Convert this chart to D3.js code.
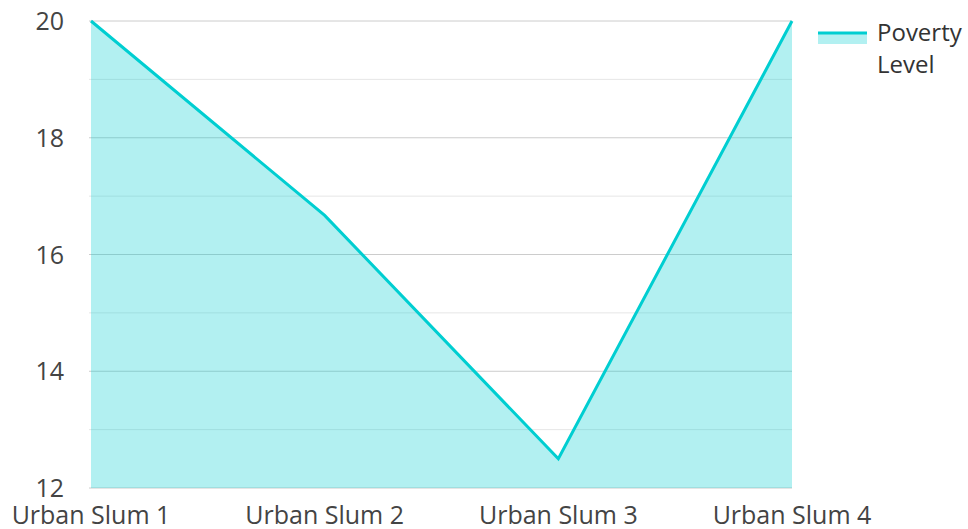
<!DOCTYPE html>
<html><head><meta charset="utf-8">
<script src="https://cdn.jsdelivr.net/npm/d3@7"></script>
<style>body{margin:0;background:#fff}svg{display:block;font-family:"Open Sans",sans-serif}</style>
</head><body>
<svg id="c" width="968" height="529"></svg>
<script>
const categories = ["Urban Slum 1","Urban Slum 2","Urban Slum 3","Urban Slum 4"];
const povertyLevel = [20, 16.67, 12.5, 20];
const yTicks = [12, 14, 16, 18, 20];
const yMinor = [13, 15, 17, 19];
const seriesName = ["Poverty", "Level"];

const svg = d3.select("#c");
const L = 91, R = 792, T = 21, B = 488;
const x = d3.scalePoint().domain(categories).range([L, R]);
const y = d3.scaleLinear().domain([12, 20]).range([B, T]);
const lineColor = "#00CED1";
const fillColor = "rgba(0,206,209,0.3)";

const g = svg.append("g");
g.selectAll(".minor").data(yMinor).enter().append("line")
  .attr("x1", L - 2).attr("x2", R).attr("y1", d => y(d)).attr("y2", d => y(d))
  .attr("stroke", "#e6e6e6").attr("stroke-width", 1);
g.selectAll(".major").data(yTicks).enter().append("line")
  .attr("x1", L - 2).attr("x2", R).attr("y1", d => y(d)).attr("y2", d => y(d))
  .attr("stroke", "#cccccc").attr("stroke-width", 1);

const data = categories.map((c, i) => ({c, v: povertyLevel[i]}));
g.append("path").datum(data)
  .attr("d", d3.area().x(d => x(d.c)).y0(y(12)).y1(d => y(d.v)))
  .attr("fill", fillColor);
g.append("path").datum(data)
  .attr("d", d3.line().x(d => x(d.c)).y(d => y(d.v)))
  .attr("fill", "none").attr("stroke", lineColor).attr("stroke-width", 3).attr("stroke-linejoin", "miter");

// y axis labels
g.selectAll(".yl").data(yTicks).enter().append("text")
  .attr("x", 64).attr("y", d => y(d)).attr("dy", "0.36em")
  .attr("text-anchor", "end").attr("font-size", 25).attr("fill", "#444")
  .text(d => d);
// x labels
g.selectAll(".xl").data(categories).enter().append("text")
  .attr("x", d => x(d)).attr("y", 524)
  .attr("text-anchor", "middle").attr("font-size", 25).attr("fill", "#444")
  .text(d => d);

// legend
const lg = svg.append("g");
lg.append("rect").attr("x", 818).attr("y", 34).attr("width", 49).attr("height", 10).attr("fill", fillColor);
lg.append("line").attr("x1", 818).attr("x2", 867).attr("y1", 33).attr("y2", 33)
  .attr("stroke", lineColor).attr("stroke-width", 3);
lg.selectAll("text").data(seriesName).enter().append("text")
  .attr("x", 877).attr("y", (d, i) => 41 + i * 32)
  .attr("font-size", 24).attr("fill", "#333").text(d => d);
</script>
</body></html>
